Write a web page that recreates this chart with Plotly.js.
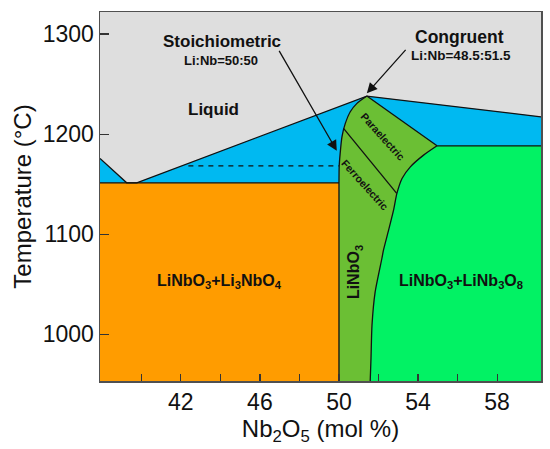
<!DOCTYPE html>
<html>
<head>
<meta charset="utf-8">
<script src="https://cdn.plot.ly/plotly-3.0.1.min.js"></script>
<style>html,body{margin:0;padding:0;background:#fff;}#chart{width:550px;height:449px;}</style>
</head>
<body>
<div id="chart"></div>
<script>
// Axis extents and ticks
const xRange = [37.91, 60.22];
const yRange = [953.3, 1322];
const xTickVals = [40, 42, 44, 46, 48, 50, 52, 54, 56, 58];
const xTickText = ['', '42', '', '46', '', '50', '', '54', '', '58'];
const yTickVals = [1000, 1100, 1200, 1300];

// Liquidus line (Nb2O5 mol %, °C)
const liquidusX = [37.91, 39.26, 39.77, 51.41, 60.22];
const liquidusY = [1175.7, 1151.3, 1151.3, 1238.0, 1217.3];

// Eutectic (LiNbO3 + Li3NbO4) region top
const eutecticT = 1151.3;
const eutecticX = [37.91, 50.0];

// LiNbO3 solid solution: left (Li-rich) boundary, bottom to peak
const ssLeftX = [50.0, 50.0, 50.01, 50.06, 50.15, 50.32, 50.57, 50.91, 51.41];
const ssLeftY = [953.3, 1150.7, 1167.3, 1180.7, 1197.3, 1210.7, 1222.3, 1230.7, 1238.0];

// LiNbO3 solid solution: right (Nb-rich) boundary, peak down to bottom
const ssRightX = [51.41, 54.96, 54.28, 53.61, 53.19, 52.93, 52.76, 52.51, 52.25, 52.17, 51.83, 51.67, 51.62, 51.58];
const ssRightY = [1238.0, 1188.3, 1179.0, 1167.3, 1155.7, 1140.7, 1124.0, 1104.0, 1084.0, 1075.7, 1042.3, 1009.0, 975.7, 953.3];

// LiNbO3 + LiNb3O8 region top
const nbRichT = 1188.3;
const nbRichX = [54.96, 60.22];

// Ferroelectric / paraelectric boundary (Curie line)
const curieX = [50.23, 52.92];
const curieY = [1205.7, 1140.7];

// Stoichiometric dashed line
const dashX = [42.38, 50.0];
const dashT = 1168.3;

// Arrows: tail and head
const stoichTail = [46.93, 1284.7], stoichHead = [49.89, 1183.3];
const congTail = [53.44, 1285.7], congHead = [51.41, 1240.7];

const colGray = '#dedede', colBlue = '#00b9f1', colOrange = '#ff9c00',
      colGreen = '#6bbf34', colBright = '#02f264', colLine = '#111111';

const traces = [];
// Blue (liquid + solid) area under liquidus
traces.push({x: liquidusX.concat([xRange[1], xRange[0]]), y: liquidusY.concat([yRange[0], yRange[0]]),
  mode: 'lines', fill: 'toself', fillcolor: colBlue, line: {width: 0}, hoverinfo: 'skip'});
// Orange
traces.push({x: [eutecticX[0], eutecticX[0], eutecticX[1], eutecticX[1]], y: [yRange[0], eutecticT, eutecticT, yRange[0]],
  mode: 'lines', fill: 'toself', fillcolor: colOrange, line: {width: 0}, hoverinfo: 'skip'});
// LiNbO3 solid solution
traces.push({x: ssLeftX.concat(ssRightX.slice(1)), y: ssLeftY.concat(ssRightY.slice(1)),
  mode: 'lines', fill: 'toself', fillcolor: colGreen, line: {width: 0}, hoverinfo: 'skip'});
// LiNbO3 + LiNb3O8
const rc = ssRightX.slice(1).map((v, i) => [v, ssRightY.slice(1)[i]]).reverse();
traces.push({x: [nbRichX[1], nbRichX[1]].concat(rc.map(p => p[0])).concat([nbRichX[1]]),
  y: [nbRichT, yRange[0]].concat(rc.map(p => p[1])).concat([nbRichT]),
  mode: 'lines', fill: 'toself', fillcolor: colBright, line: {width: 0}, hoverinfo: 'skip'});

const lw = 1.3;
traces.push({x: liquidusX, y: liquidusY, mode: 'lines', line: {color: colLine, width: lw}});
traces.push({x: eutecticX, y: [eutecticT, eutecticT], mode: 'lines', line: {color: colLine, width: lw}});
traces.push({x: ssLeftX, y: ssLeftY, mode: 'lines', line: {color: colLine, width: lw, shape: 'spline', smoothing: 0.6}});
traces.push({x: ssRightX.slice(0, 2), y: ssRightY.slice(0, 2), mode: 'lines', line: {color: colLine, width: lw}});
traces.push({x: ssRightX.slice(1), y: ssRightY.slice(1), mode: 'lines', line: {color: colLine, width: lw, shape: 'spline', smoothing: 0.6}});
traces.push({x: nbRichX, y: [nbRichT, nbRichT], mode: 'lines', line: {color: colLine, width: lw}});
traces.push({x: curieX, y: curieY, mode: 'lines', line: {color: colLine, width: lw}});
traces.push({x: dashX, y: [dashT, dashT], mode: 'lines', line: {color: colLine, width: 1.2, dash: '5px,5px'}});

const bold = (s) => ({family: 'Liberation Sans, Arial, sans-serif', size: s, color: '#111'});
const ann = [
  {x: 44.09, y: 1293, text: '<b>Stoichiometric</b>', font: bold(17)},
  {x: 44.01, y: 1274, text: '<b>Li:Nb=50:50</b>', font: bold(13)},
  {x: 43.66, y: 1224.7, text: '<b>Liquid</b>', font: bold(17)},
  {x: 56.11, y: 1297, text: '<b>Congruent</b>', font: bold(17.5)},
  {x: 56.19, y: 1279, text: '<b>Li:Nb=48.5:51.5</b>', font: bold(13.5)},
  {x: 43.96, y: 1052.3, text: '<b>LiNbO<sub>3</sub>+Li<sub>3</sub>NbO<sub>4</sub></b>', font: bold(16)},
  {x: 56.18, y: 1052.3, text: '<b>LiNbO<sub>3</sub>+LiNb<sub>3</sub>O<sub>8</sub></b>', font: bold(16)},
  {x: 50.82, y: 1062.3, text: '<b>LiNbO<sub>3</sub></b>', font: bold(16), textangle: -90},
  {x: 52.25, y: 1197.3, text: '<b>Paraelectric</b>', font: bold(10.5), textangle: 48},
  {x: 51.33, y: 1149, text: '<b>Ferroelectric</b>', font: bold(10.5), textangle: 48},
].map(a => Object.assign({xref: 'x', yref: 'y', showarrow: false}, a));
[[stoichTail, stoichHead], [congTail, congHead]].forEach(([t, h]) => {
  ann.push({xref: 'x', yref: 'y', axref: 'x', ayref: 'y', x: h[0], y: h[1], ax: t[0], ay: t[1],
    text: '', showarrow: true, arrowhead: 2, arrowsize: 1.6, arrowwidth: 1.3, arrowcolor: '#111', standoff: 0, startstandoff: 0});
});

const axFont = {family: 'Liberation Sans, Arial, sans-serif', size: 23, color: '#111'};
const layout = {
  width: 550, height: 449,
  margin: {l: 100, r: 9, t: 12, b: 68},
  paper_bgcolor: '#ffffff', plot_bgcolor: colGray,
  showlegend: false,
  xaxis: {range: xRange, tickvals: xTickVals, ticktext: xTickText, ticks: 'inside', ticklen: 7, tickwidth: 1.2,
    tickcolor: '#333', showgrid: false, zeroline: false, showline: true, mirror: true, linecolor: '#505050', linewidth: 1.5,
    tickfont: axFont, title: {text: 'Nb<sub>2</sub>O<sub>5</sub> (mol %)', font: {family: axFont.family, size: 24, color: '#111'}, standoff: 0}},
  yaxis: {range: yRange, tickvals: yTickVals, ticks: 'inside', ticklen: 9, tickwidth: 1.2, tickcolor: '#333',
    showgrid: false, zeroline: false, showline: true, mirror: true, linecolor: '#505050', linewidth: 1.5,
    tickfont: axFont, title: {text: 'Temperature (°C)', font: {family: axFont.family, size: 24, color: '#111'}, standoff: 4}},
  annotations: ann
};
Plotly.newPlot('chart', traces, layout, {displayModeBar: false, staticPlot: true});
</script>
</body>
</html>
